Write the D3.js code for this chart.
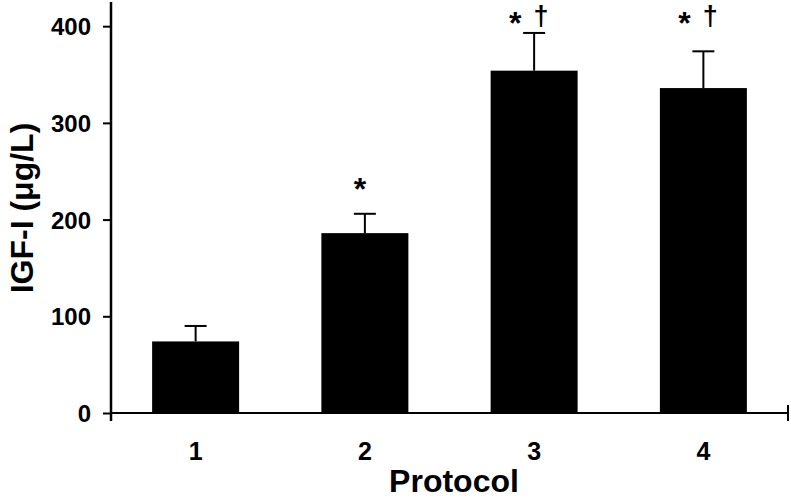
<!DOCTYPE html>
<html>
<head>
<meta charset="utf-8">
<script src="https://cdn.jsdelivr.net/npm/d3@7"></script>
<style>
  body { margin: 0; background: #fff; }
  text { font-family: "Liberation Sans", Arial, sans-serif; font-weight: bold; fill: #000; }
</style>
</head>
<body>
<div id="chart"></div>
<script>
// data
var protocols = ["1", "2", "3", "4"];
var igfMean = [74, 186, 354, 336];
var igfErr = [16, 20, 39, 38];
var starMarks = ["", "*", "*", "*"];
var daggerMarks = ["", "", "\u2020", "\u2020"];
var markLevel = [0, 238, 410, 410];
var yTicks = [0, 100, 200, 300, 400];

var width = 791, height = 500;
var margin = {top: 2, right: 3, bottom: 87, left: 111};

var svg = d3.select("#chart")
    .append("svg")
    .attr("width", width)
    .attr("height", height);

var x = d3.scaleBand()
    .domain(protocols)
    .range([margin.left, width - margin.right])
    .paddingInner(0.486)
    .paddingOuter(0.243);

var y = d3.scaleLinear()
    .domain([0, 425])
    .range([height - margin.bottom, margin.top]);

var y0 = y(0);

// y axis
var yAxis = svg.append("g")
    .attr("transform", "translate(" + margin.left + ",0)")
    .call(d3.axisLeft(y).tickValues(yTicks).tickSize(8).tickPadding(12).tickSizeOuter(0));
yAxis.select(".domain").remove();
yAxis.selectAll(".tick line").attr("stroke", "#000").attr("stroke-width", 2);
yAxis.selectAll(".tick text").style("font-size", "24px").attr("dy", "0.36em");

svg.append("line")
    .attr("x1", margin.left).attr("x2", margin.left)
    .attr("y1", margin.top).attr("y2", y0 + 8)
    .attr("stroke", "#000").attr("stroke-width", 2.5);

// x axis
var xAxis = svg.append("g")
    .attr("transform", "translate(0," + y0 + ")")
    .call(d3.axisBottom(x).tickSize(0).tickPadding(29).tickSizeOuter(0));
xAxis.select(".domain").remove();
xAxis.selectAll(".tick text").style("font-size", "25px");

svg.append("line")
    .attr("x1", margin.left).attr("x2", width - margin.right)
    .attr("y1", y0).attr("y2", y0)
    .attr("stroke", "#000").attr("stroke-width", 2);
svg.append("line")
    .attr("x1", width - margin.right).attr("x2", width - margin.right)
    .attr("y1", y0 - 8).attr("y2", y0 + 8)
    .attr("stroke", "#000").attr("stroke-width", 2);

// bars
svg.selectAll(".bar")
    .data(protocols)
    .enter()
    .append("rect")
    .attr("class", "bar")
    .attr("x", function(d) { return x(d); })
    .attr("y", function(d, i) { return y(igfMean[i]); })
    .attr("width", x.bandwidth())
    .attr("height", function(d, i) { return y0 - y(igfMean[i]); })
    .attr("fill", "#000");

// error bars (upper only)
var cx = function(d) { return x(d) + x.bandwidth() / 2; };
svg.selectAll(".err")
    .data(protocols)
    .enter()
    .append("line")
    .attr("x1", cx).attr("x2", cx)
    .attr("y1", function(d, i) { return y(igfMean[i]); })
    .attr("y2", function(d, i) { return y(igfMean[i] + igfErr[i]); })
    .attr("stroke", "#000").attr("stroke-width", 2);
svg.selectAll(".cap")
    .data(protocols)
    .enter()
    .append("line")
    .attr("x1", function(d) { return cx(d) - 11; })
    .attr("x2", function(d) { return cx(d) + 11; })
    .attr("y1", function(d, i) { return y(igfMean[i] + igfErr[i]); })
    .attr("y2", function(d, i) { return y(igfMean[i] + igfErr[i]); })
    .attr("stroke", "#000").attr("stroke-width", 2);

// significance marks
svg.selectAll(".star")
    .data(protocols)
    .enter()
    .append("text")
    .attr("x", function(d, i) { return cx(d) + (daggerMarks[i] ? -19 : -5); })
    .attr("y", function(d, i) { return y(markLevel[i]) + 17; })
    .attr("text-anchor", "middle")
    .style("font-size", "32px")
    .text(function(d, i) { return starMarks[i]; });
svg.selectAll(".dagger")
    .data(protocols)
    .enter()
    .append("text")
    .attr("x", function(d) { return cx(d) + 7; })
    .attr("y", function(d, i) { return y(markLevel[i]) + 8; })
    .attr("text-anchor", "middle")
    .style("font-size", "27px")
    .text(function(d, i) { return daggerMarks[i]; });

// axis titles
svg.append("text")
    .attr("x", 454)
    .attr("y", 492)
    .attr("text-anchor", "middle")
    .style("font-size", "32px")
    .text("Protocol");

svg.append("text")
    .attr("transform", "translate(33,208) rotate(-90)")
    .attr("text-anchor", "middle")
    .style("font-size", "32px")
    .text("IGF-I (\u03bcg/L)");
</script>
</body>
</html>
